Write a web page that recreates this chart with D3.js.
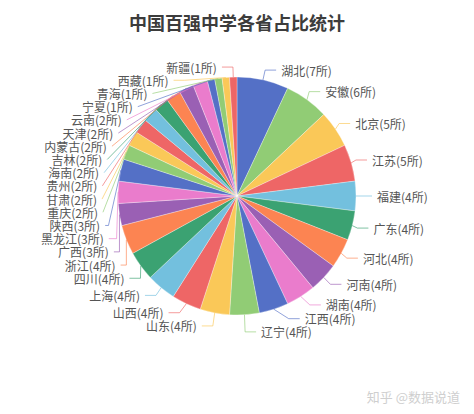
<!DOCTYPE html>
<html><head><meta charset="utf-8">
<script src="https://cdn.jsdelivr.net/npm/d3@7"></script>
<style>body{margin:0;background:#fff}svg{display:block}</style>
</head><body>
<svg id="c" width="474" height="414"></svg>
<script>
const titleText = "中国百强中学各省占比统计";
const provinces = ["湖北","安徽","北京","江苏","福建","广东","河北","河南","湖南","江西","辽宁","山东","山西","上海","四川","浙江","广西","黑龙江","陕西","重庆","甘肃","贵州","海南","吉林","内蒙古","天津","云南","宁夏","青海","西藏","新疆"];
const counts = [7,6,5,5,4,4,4,4,4,4,4,4,4,4,4,4,3,3,3,2,2,2,2,2,2,2,2,1,1,1,1];
const palette = ["#5470c6","#91cc75","#fac858","#ee6666","#73c0de","#3ba272","#fc8452","#9a60b4","#ea7ccc"];
const unitText = "所";
const watermark = "知乎 @数据说道";

const W = 474, H = 414;
const cx = 237, cy = 196, r = 119;
const len1 = 10, len2 = 11, labelDist = 5, labelH = 13.2;
const FONT = "'Noto Sans CJK SC','Microsoft YaHei',sans-serif";

const svg = d3.select("#c");
const data = provinces.map((p, i) => ({name: p, v: counts[i], i}));
const color = d3.scaleOrdinal().domain(d3.range(data.length)).range(data.map((d, i) => palette[i % palette.length]));
const pie = d3.pie().sort(null).value(d => d.v).startAngle(0).endAngle(2 * Math.PI);
const arcs = pie(data);
const arcGen = d3.arc().innerRadius(0).outerRadius(r);

const g = svg.append("g").attr("transform", `translate(${cx},${cy})`);
g.selectAll("path.slice").data(arcs).join("path")
  .attr("class", "slice")
  .attr("d", arcGen)
  .attr("fill", d => color(d.data.i))
  .attr("stroke", "#fff").attr("stroke-width", 0.3);

// ---- echarts-like label layout ----
const R = r + len1;
const items = arcs.map(a => {
  const mid = (a.startAngle + a.endAngle) / 2;
  const sx = Math.sin(mid), sy = -Math.cos(mid);
  const dir = sx < 0 ? -1 : 1;
  const x1 = cx + r * sx, y1 = cy + r * sy;
  const x2 = cx + R * sx, y2 = cy + R * sy;
  const x3 = x2 + dir * len2;
  return {d: a.data, sx, sy, dir, p0: [x1, y1], x: x3 + dir * labelDist, y: y2, rectY: y2 - labelH / 2};
});

function shiftY(list, minB, maxB) {
  list.sort((a, b) => a.rectY - b.rectY);
  let last = minB, adjusted = false;
  for (const it of list) {
    const delta = it.rectY - last;
    if (delta < 0) { it.rectY -= delta; it.y -= delta; adjusted = true; }
    last = it.rectY + labelH;
  }
  return adjusted;
}
function recalcX(list, dir) {
  const semis = [{list: [], maxY: 0, rB: R}, {list: [], maxY: 0, rB: R}];
  for (const it of list) {
    const semi = it.y > cy ? semis[1] : semis[0];
    const dy = Math.abs(it.y - cy);
    if (dy >= semi.maxY) {
      const dx = it.x - cx - len2 * dir;
      semi.rB = Math.abs(dx) < R ? Math.sqrt(dy * dy / (1 - dx * dx / R / R)) : R;
      semi.maxY = dy;
    }
    semi.list.push(it);
  }
  for (const semi of semis) {
    const rB2 = semi.rB * semi.rB;
    for (const it of semi.list) {
      const dy = Math.abs(it.y - cy);
      const dx = Math.sqrt(Math.max(0, (1 - Math.abs(dy * dy / rB2))) * R * R);
      it.x = cx + (dx + len2) * dir;
    }
  }
}
const left = items.filter(it => it.x < cx), right = items.filter(it => it.x >= cx);
if (shiftY(left, 0, H)) recalcX(left, -1);
if (shiftY(right, 0, H)) recalcX(right, 1);

function project(x1, y1, x2, y2, x, y) {
  const dx = x2 - x1, dy = y2 - y1;
  const t = ((x - x1) * dx + (y - y1) * dy) / (dx * dx + dy * dy);
  const px = x1 + t * dx, py = y1 + t * dy;
  return {p: [px, py], d: Math.hypot(x - px, y - py)};
}
function norm(v) { const l = Math.hypot(v[0], v[1]); return [v[0] / l, v[1] / l, l]; }
function limitTurn(pts, minDeg) {
  const a = minDeg / 180 * Math.PI;
  const [p0, p1, p2] = pts;
  const d1 = norm([p0[0] - p1[0], p0[1] - p1[1]]), d2 = norm([p2[0] - p1[0], p2[1] - p1[1]]);
  if (d1[2] < 1e-3 || d2[2] < 1e-3) return;
  const c = d1[0] * d2[0] + d1[1] * d2[1];
  if (Math.cos(a) < c) {
    const pr = project(p1[0], p1[1], p2[0], p2[1], p0[0], p0[1]);
    const k = pr.d / Math.tan(Math.PI - a);
    let q = [pr.p[0] + d2[0] * k, pr.p[1] + d2[1] * k];
    const t = p2[0] !== p1[0] ? (q[0] - p1[0]) / (p2[0] - p1[0]) : (q[1] - p1[1]) / (p2[1] - p1[1]);
    if (isNaN(t)) return;
    if (t < 0) q = p1.slice(); else if (t > 1) q = p2.slice();
    pts[1] = q;
  }
}
function limitSurface(pts, n, maxDeg) {
  const a = maxDeg / 180 * Math.PI;
  const [p0, p1, p2] = pts;
  const d1 = norm([p1[0] - p0[0], p1[1] - p0[1]]), d2 = norm([p2[0] - p1[0], p2[1] - p1[1]]);
  if (d1[2] < 1e-3 || d2[2] < 1e-3) return;
  const c = d1[0] * n[0] + d1[1] * n[1];
  if (c < Math.cos(a)) {
    const pr = project(p1[0], p1[1], p2[0], p2[1], p0[0], p0[1]);
    let q = pr.p.slice();
    const ang2 = Math.acos(Math.max(-1, Math.min(1, d2[0] * n[0] + d2[1] * n[1])));
    const newA = Math.PI / 2 + ang2 - a;
    if (newA >= Math.PI / 2) q = p2.slice();
    else {
      const k = pr.d / Math.tan(Math.PI / 2 - newA);
      q = [q[0] + d2[0] * k, q[1] + d2[1] * k];
      const t = p2[0] !== p1[0] ? (q[0] - p1[0]) / (p2[0] - p1[0]) : (q[1] - p1[1]) / (p2[1] - p1[1]);
      if (isNaN(t)) return;
      if (t < 0) q = p1.slice(); else if (t > 1) q = p2.slice();
    }
    pts[1] = q;
  }
}
for (const it of items) {
  const p2 = [it.x - it.dir * labelDist, it.y];
  const p1 = [p2[0] - it.dir * len2, it.y];
  it.pts = [it.p0, p1, p2];
  limitTurn(it.pts, 90);
  limitSurface(it.pts, [it.sx, it.sy], 90);
}

svg.append("g").selectAll("polyline").data(items).join("polyline")
  .attr("points", d => d.pts.map(p => p.join(",")).join(" "))
  .attr("fill", "none")
  .attr("stroke", d => color(d.d.i))
  .attr("stroke-opacity", 0.65)
  .attr("stroke-width", 1);

svg.append("g").selectAll("text").data(items).join("text")
  .attr("x", d => d.x).attr("y", d => d.y)
  .attr("text-anchor", d => d.dir > 0 ? "start" : "end")
  .attr("dominant-baseline", "central")
  .attr("font-family", FONT).attr("font-size", 12)
  .attr("fill", "#555")
  .text(d => `${d.d.name}(${d.d.v}${unitText})`);

svg.append("text").attr("x", 237).attr("y", 22)
  .attr("text-anchor", "middle").attr("dominant-baseline", "central")
  .attr("font-family", FONT).attr("font-size", 18).attr("font-weight", "bold")
  .attr("fill", "#3c3c3c").text(titleText);

svg.append("text").attr("x", 460).attr("y", 396)
  .attr("text-anchor", "end").attr("dominant-baseline", "central")
  .attr("font-family", FONT).attr("font-size", 13)
  .attr("fill", "#cfcfcf").text(watermark);
</script>
</body></html>
